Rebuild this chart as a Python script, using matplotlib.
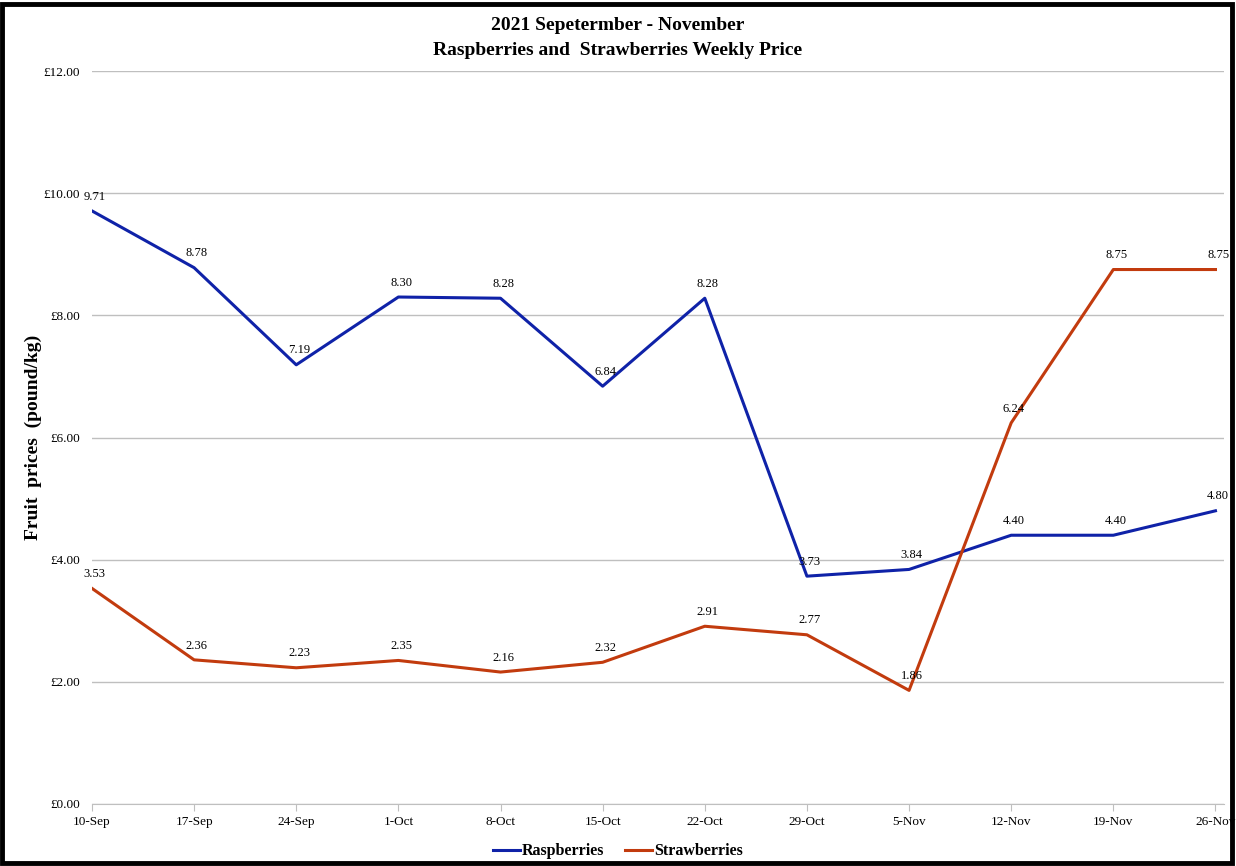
import matplotlib.pyplot as plt
from matplotlib.patches import Rectangle

plt.rcParams['font.family'] = ['Liberation Serif', 'DejaVu Serif']

weeks = ["10-Sep", "17-Sep", "24-Sep", "1-Oct", "8-Oct", "15-Oct",
         "22-Oct", "29-Oct", "5-Nov", "12-Nov", "19-Nov", "26-Nov"]
raspberries = [9.71, 8.78, 7.19, 8.30, 8.28, 6.84, 8.28, 3.73, 3.84, 4.40, 4.40, 4.80]
strawberries = [3.53, 2.36, 2.23, 2.35, 2.16, 2.32, 2.91, 2.77, 1.86, 6.24, 8.75, 8.75]

blue = '#0F22A8'
red = '#C23B0E'

fig = plt.figure(figsize=(12.36, 8.66), dpi=100)
ax = fig.add_axes([0.0744, 0.0716, 0.9156, 0.8464])

x = range(len(weeks))
ax.plot(x, raspberries, color=blue, lw=2.2, label="Raspberries", zorder=3)
ax.plot(x, strawberries, color=red, lw=2.2, label="Strawberries", zorder=3)

# data labels above each point
for i in x:
    ax.annotate(f"{raspberries[i]:.2f}", (i, raspberries[i]), xytext=(2, 6),
                textcoords='offset points', ha='center', va='bottom', fontsize=9)
    ax.annotate(f"{strawberries[i]:.2f}", (i, strawberries[i]), xytext=(2, 6),
                textcoords='offset points', ha='center', va='bottom', fontsize=9)

ax.set_xlim(0, 11.08)
ax.set_ylim(0, 12)
ax.set_yticks([0, 2, 4, 6, 8, 10, 12])
ax.set_yticklabels([f"£{v:.2f}" for v in [0, 2, 4, 6, 8, 10, 12]], fontsize=9.5)
ax.set_xticks(list(x))
ax.set_xticklabels(weeks, fontsize=9.5)
ax.tick_params(axis='y', length=0, pad=8.5)
ax.tick_params(axis='x', length=5, color='#BFBFBF', pad=4)
ax.grid(axis='y', color='#BFBFBF', lw=1)
ax.set_axisbelow(True)
for s in ['top', 'right', 'left']:
    ax.spines[s].set_visible(False)
ax.spines['bottom'].set_color('#BFBFBF')

ax.set_ylabel("Fruit  prices  (pound/kg)", fontsize=14, fontweight='bold', labelpad=1)
fig.text(0.5, 0.98, "2021 Sepetermber - November\nRaspberries and  Strawberries Weekly Price",
         ha='center', va='top', fontsize=14, fontweight='bold', linespacing=1.6)

leg = fig.legend(loc='lower center', bbox_to_anchor=(0.5, -0.009), ncol=2, frameon=False,
                 prop={'weight': 'bold', 'size': 11.5}, handlelength=1.7,
                 handletextpad=0.1, columnspacing=1.3)

fig.patches.append(Rectangle((2, 3), 1230, 859, transform=None, fill=False,
                             edgecolor='black', lw=3.5))

fig.savefig("out.png", dpi=100)
